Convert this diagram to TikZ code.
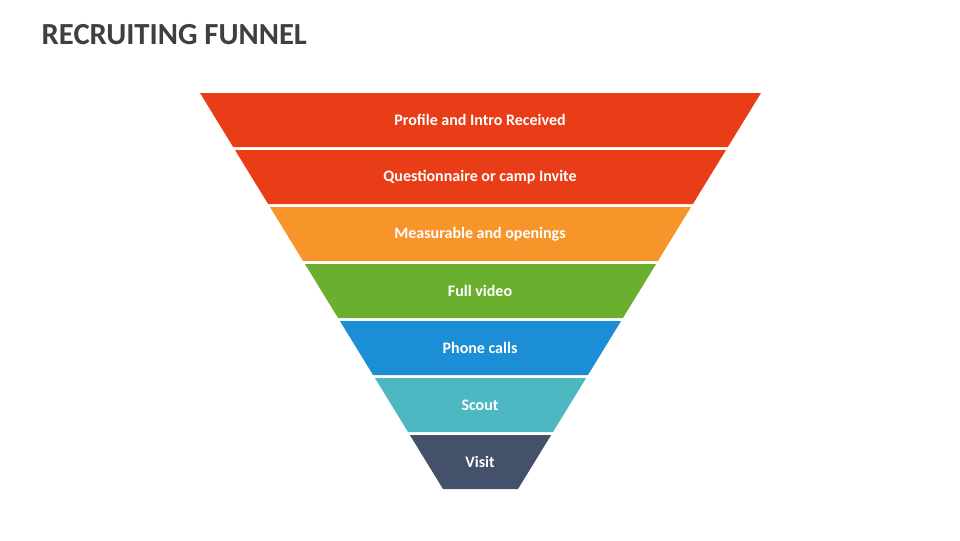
\documentclass[tikz,border=0pt]{standalone}
\usepackage{fontspec}
\setmainfont{Carlito}
\definecolor{c1}{HTML}{E83D17}
\definecolor{c2}{HTML}{E83D17}
\definecolor{c3}{HTML}{F7952B}
\definecolor{c4}{HTML}{6AAF2D}
\definecolor{c5}{HTML}{1B8ED6}
\definecolor{c6}{HTML}{4DB8C2}
\definecolor{c7}{HTML}{43526A}
\definecolor{titlec}{HTML}{3F3F3F}
\begin{document}
\begin{tikzpicture}[x=0.75pt,y=-0.75pt,
  lbl/.style={text=white,font=\bfseries\fontsize{12}{14}\selectfont}]
\useasboundingbox (0,0) rectangle (960,540);
\node[anchor=west,text=titlec,font=\bfseries\fontsize{23}{27}\selectfont] (title) at (37,35) {RECRUITING FUNNEL};
\foreach \i/\t in {1/Profile and Intro Received,2/Questionnaire or camp Invite,3/Measurable and openings,4/Full video/ schedule,5/Phone calls,6/Scout,7/Visit}{
  \pgfmathsetmacro{\ya}{93+57*(\i-1)}
  \pgfmathsetmacro{\yb}{\ya+54}
  \pgfmathsetmacro{\xa}{200+0.6136*(\ya-93)}
  \pgfmathsetmacro{\xb}{200+0.6136*(\yb-93)}
  \pgfmathsetmacro{\xc}{761-0.6136*(\ya-93)}
  \pgfmathsetmacro{\xd}{761-0.6136*(\yb-93)}
  \fill[c\i] (\xa,\ya) -- (\xc,\ya) -- (\xd,\yb) -- (\xb,\yb) -- cycle;
  \node[lbl] (b\i) at (480,\ya+27) {\t};
}
\end{tikzpicture}
\end{document}
